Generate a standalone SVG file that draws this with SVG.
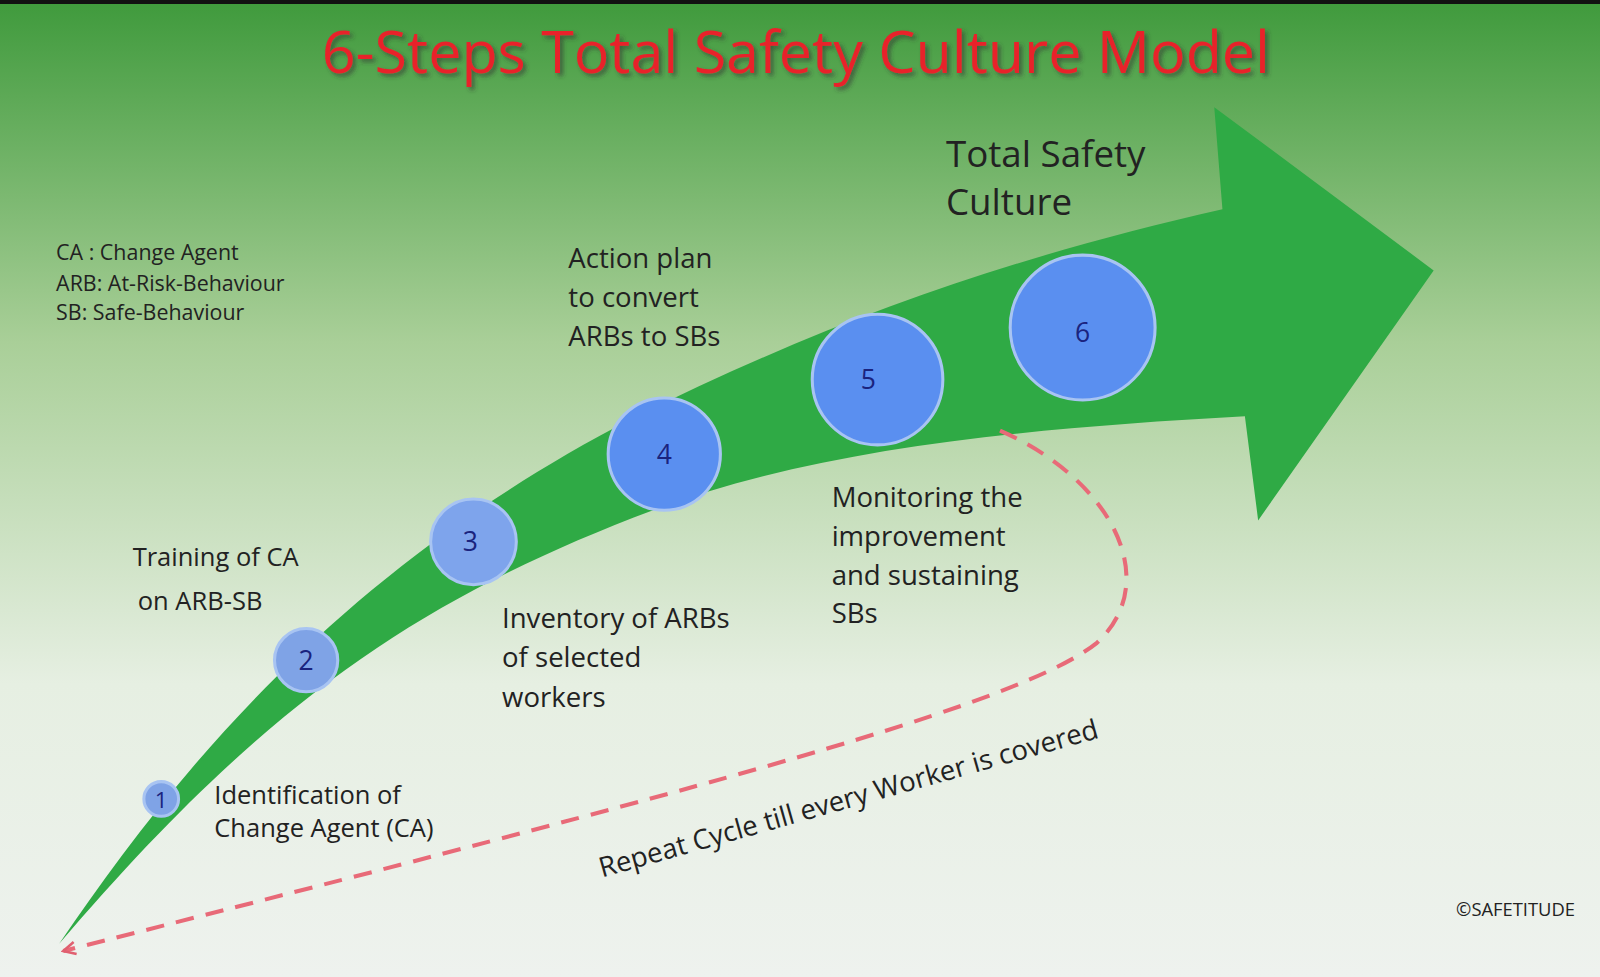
<svg xmlns="http://www.w3.org/2000/svg" width="1600" height="977" viewBox="0 0 1600 977">
<defs>
<linearGradient id="bg" x1="0" y1="0" x2="0" y2="1">
<stop offset="0" stop-color="#3f9a3c"/><stop offset="0.35" stop-color="#a9cf98"/><stop offset="0.7" stop-color="#e6efe2"/><stop offset="1" stop-color="#eef2ee"/>
</linearGradient>
<filter id="sh"><feDropShadow dx="3" dy="3" stdDeviation="2" flood-color="#333" flood-opacity="0.6"/></filter>
<marker id="ah" markerUnits="userSpaceOnUse" markerWidth="16" markerHeight="16" refX="14" refY="8" orient="auto"><path d="M2,2 L14,8 L2,14" fill="none" stroke="#e06070" stroke-width="2.5"/></marker>
<style>
.t{font-family:"Open Sans","Liberation Sans",sans-serif;fill:#222}
.c{fill:#5a8ff0;stroke:#a8c4f2;stroke-width:3}
.n{font-family:"Open Sans","Liberation Sans",sans-serif;fill:#1a237e;text-anchor:middle}
</style>
</defs>
<rect width="1600" height="977" fill="url(#bg)"/>
<rect width="1600" height="4" fill="#111"/>
<g transform="scale(1.0204)">
<text x="780" y="72" text-anchor="middle" font-family="Open Sans, Liberation Sans, sans-serif" font-size="58" fill="#e8242a" filter="url(#sh)">6-Steps Total Safety Culture Model</text>
<g id="arrow"><path d="M58,925 C170,760 330,560 620,410 C820,310 1000,250 1198,205 L1190,105 L1405,265 L1233,510 L1220,408 C1000,420 800,440 640,500 C400,590 250,700 58,925 Z" fill="#2faa45"/></g>
<g id="legend" class="t" font-size="21"><text x="55" y="255">CA : Change Agent</text><text x="55" y="285">ARB: At-Risk-Behaviour</text><text x="55" y="314">SB: Safe-Behaviour</text></g>
<g id="n1"><circle class="c" cx="158" cy="783" r="17" style="fill:#7fa3e6"/><text class="n" x="158" y="792" font-size="22">1</text><text class="t" x="210" y="788" font-size="25">Identification of</text><text class="t" x="210" y="820" font-size="25">Change Agent (CA)</text></g>
<g id="n2"><circle class="c" cx="300" cy="647" r="31" style="fill:#7fa3e6"/><text class="n" x="300" y="657" font-size="26">2</text><text class="t" x="130" y="555" font-size="25">Training of CA</text><text class="t" x="135" y="598" font-size="25">on ARB-SB</text></g>
<g id="n3"><circle class="c" cx="464" cy="531" r="42" style="fill:#7ea4ec"/><text class="n" x="461" y="540" font-size="26">3</text><text class="t" x="492" y="615" font-size="27">Inventory of ARBs</text><text class="t" x="492" y="654" font-size="27">of selected</text><text class="t" x="492" y="693" font-size="27">workers</text></g>
<g id="n4"><circle class="c" cx="651" cy="445" r="55"/><text class="n" x="651" y="455" font-size="26">4</text><text class="t" x="557" y="263" font-size="27">Action plan</text><text class="t" x="557" y="301" font-size="27">to convert</text><text class="t" x="557" y="339" font-size="27">ARBs to SBs</text></g>
<g id="n5"><circle class="c" cx="860" cy="372" r="64"/><text class="n" x="851" y="381" font-size="26">5</text><text class="t" x="815" y="497" font-size="27">Monitoring the</text><text class="t" x="815" y="535" font-size="27">improvement</text><text class="t" x="815" y="573" font-size="27">and sustaining</text><text class="t" x="815" y="611" font-size="27">SBs</text></g>
<g id="n6"><circle class="c" cx="1061" cy="321" r="71"/><text class="n" x="1061" y="335" font-size="26">6</text><text class="t" x="927" y="164" font-size="36">Total Safety</text><text class="t" x="927" y="211" font-size="36">Culture</text></g>
<g id="connectors"><path d="M980,422 C1090,470 1140,570 1075,630 C1000,690 700,770 62,932" fill="none" stroke="#e86a78" stroke-width="4" stroke-dasharray="18,12" marker-end="url(#ah)"/></g>
<text class="t" x="0" y="0" font-size="27" transform="translate(590,860) rotate(-15.7)">Repeat Cycle till every Worker is covered</text>
<text class="t" x="1427" y="898" font-size="18" fill="#333">©SAFETITUDE</text>
</g>
</svg>
